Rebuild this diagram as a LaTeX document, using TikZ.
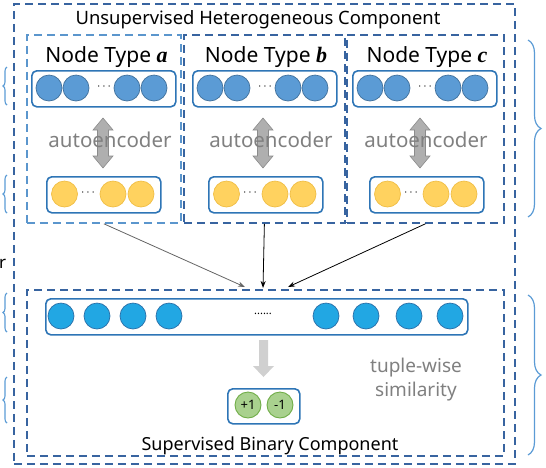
\documentclass[tikz,border=0pt]{standalone}
\usepackage{fontspec}
\setmainfont{Noto Sans}
\newfontfamily\varfont{Liberation Serif}
\usetikzlibrary{decorations.pathreplacing,arrows.meta}
\definecolor{dashc}{RGB}{56,100,160}
\definecolor{dashl}{RGB}{91,150,205}
\definecolor{rectc}{RGB}{46,117,182}
\definecolor{bluef}{RGB}{91,155,213}
\definecolor{blued}{RGB}{65,113,156}
\definecolor{yelf}{RGB}{255,210,95}
\definecolor{yeld}{RGB}{240,190,70}
\definecolor{cyanf}{RGB}{34,167,227}
\definecolor{cyand}{RGB}{42,111,168}
\definecolor{greenf}{RGB}{169,209,142}
\definecolor{greend}{RGB}{112,173,71}
\definecolor{bracec}{RGB}{91,155,213}
\definecolor{txtgray}{RGB}{128,128,128}
\begin{document}
\begin{tikzpicture}[x=1pt,y=-1pt,
  dashbox/.style={draw=dashc, dash pattern=on 8pt off 5pt, line width=1.8pt},
  vecbox/.style={draw=rectc, line width=1.6pt, rounded corners=5pt, inner sep=0, anchor=north west},
  bcirc/.style={circle, fill=bluef, draw=blued, line width=0.7pt, minimum size=26pt, inner sep=0},
  ycirc/.style={circle, fill=yelf, draw=yeld, line width=0.7pt, minimum size=26pt, inner sep=0},
  ccirc/.style={circle, fill=cyanf, draw=cyand, line width=0.7pt, minimum size=26pt, inner sep=0},
  gcirc/.style={circle, fill=greenf, draw=greend, line width=0.9pt, minimum size=26pt, inner sep=0, font=\fontsize{13}{15}\selectfont},
  dots/.style={inner sep=0, font=\fontsize{12}{14}\selectfont},
  ttl/.style={inner sep=0, font=\fontsize{18.4}{22}\selectfont},
  typel/.style={inner sep=0, font=\fontsize{21}{24}\selectfont},
  aelbl/.style={inner sep=0, text=txtgray, font=\fontsize{20.5}{24}\selectfont},
  conn/.style={line width=0.8pt, -{Stealth[length=7pt,width=5pt]}},
  lbrace/.style={draw=bracec, line width=1.1pt, decorate, decoration={brace, amplitude=4pt}},
  rbrace/.style={draw=bracec, line width=1.2pt, decorate, decoration={brace, amplitude=13pt}}]
\useasboundingbox (0,0) rectangle (546,467);

% outer component
\node[dashbox, inner sep=0, minimum width=501pt, minimum height=460pt, anchor=north west] (outer) at (13,3) {};
\node[ttl] (title) at (258,20) {Unsupervised Heterogeneous Component};

% type boxes
\node[draw=dashl, dash pattern=on 8pt off 5pt, line width=1.8pt, inner sep=0, minimum width=154pt, minimum height=188pt, anchor=north west] (ta) at (26,34) {};
\node[dashbox, inner sep=0, minimum width=161pt, minimum height=188pt, anchor=north west] (tb) at (183,34) {};
\node[dashbox, inner sep=0, minimum width=157pt, minimum height=188pt, anchor=north west] (tc) at (346,34) {};

\foreach \n/\L/\Y/\ax/\tx/\ex/\t in {a/31/46/103/106.5/110/a, b/192/208/263/266/271/b, c/352/369/420/427/426/c}{
  \node[typel] (lbl\n) at (\tx,57) {Node Type {\varfont\itshape\bfseries\fontsize{22}{24}\selectfont \t}};
  \node[vecbox, minimum width=144pt, minimum height=36pt] (bv\n) at (\L,70) {};
  \node[bcirc] (b\n1) at (\L+18,88) {};
  \node[bcirc] (b\n2) at (\L+45,88) {};
  \node[dots] (bd\n) at (\L+73,87) {$\cdots$};
  \node[bcirc] (b\n3) at (\L+96,88) {};
  \node[bcirc] (b\n4) at (\L+123,88) {};
  \fill[fill={rgb,255:red,175;green,175;blue,175}, draw={rgb,255:red,140;green,140;blue,140}, line width=0.6pt]
    (\ax,118) -- (\ax+10,130) -- (\ax+5.5,130) -- (\ax+5.5,156) -- (\ax+10,156) -- (\ax,168)
    -- (\ax-10,156) -- (\ax-5.5,156) -- (\ax-5.5,130) -- (\ax-10,130) -- cycle;
  \node[aelbl] (ae\n) at (\ex,140) {autoencoder};
  \node[vecbox, minimum width=114pt, minimum height=36pt] (yv\n) at (\Y,176) {};
  \node[ycirc] (y\n1) at (\Y+18.5,194) {};
  \node[dots] (yd\n) at (\Y+42,193) {$\cdots$};
  \node[ycirc] (y\n2) at (\Y+67,194) {};
  \node[ycirc] (y\n3) at (\Y+95,194) {};
}

% supervised component
\node[dashbox, inner sep=0, minimum width=477pt, minimum height=166pt, anchor=north west] (sup) at (26,289) {};
\node[vecbox, minimum width=422pt, minimum height=36pt] (cv) at (45,298) {};
\foreach \i/\x in {1/61,2/97,3/133,4/169,5/326,6/366,7/409,8/450}{
  \node[ccirc] (c\i) at (\x,316) {};
}
\node[dots, font=\fontsize{11}{13}\selectfont] (cdots) at (263,314) {......};

\fill[fill={rgb,255:red,208;green,208;blue,208}]
  (259,340) -- (268,340) -- (268,366) -- (274,366) -- (263.5,377) -- (253,366) -- (259,366) -- cycle;

\node[vecbox, minimum width=72pt, minimum height=35pt] (gv) at (227,388) {};
\node[gcirc] (pos) at (248,405) {+1};
\node[gcirc] (neg) at (280,405) {-1};

\node[inner sep=0, text=txtgray, align=center, font=\fontsize{19}{24}\selectfont] (tw) at (416,380) {tuple-wise\\similarity};
\node[inner sep=0, font=\fontsize{18}{22}\selectfont] (suplbl) at (270,446) {Supervised Binary Component};

% connectors
\coordinate (ea) at (245,287);
\coordinate (eb) at (263,288);
\coordinate (ec) at (288,287);
\draw[conn, draw={rgb,255:red,100;green,100;blue,100}] (ta.south) -- (ea);
\draw[conn] (tb.south) -- (eb);
\draw[conn] (tc.south) -- (ec);

% braces
\draw[lbrace] (7,105) -- (7,67);
\draw[lbrace] (7,213) -- (7,175);
\draw[lbrace] (7,332) -- (7,293);
\draw[lbrace] (7,423) -- (7,377);
\draw[rbrace] (528,40) -- (528,217);
\draw[rbrace] (528,295) -- (528,455);

\node[inner sep=0, anchor=base west, font=\fontsize{17}{20}\selectfont] (rr) at (-1,268) {r};
\end{tikzpicture}
\end{document}
